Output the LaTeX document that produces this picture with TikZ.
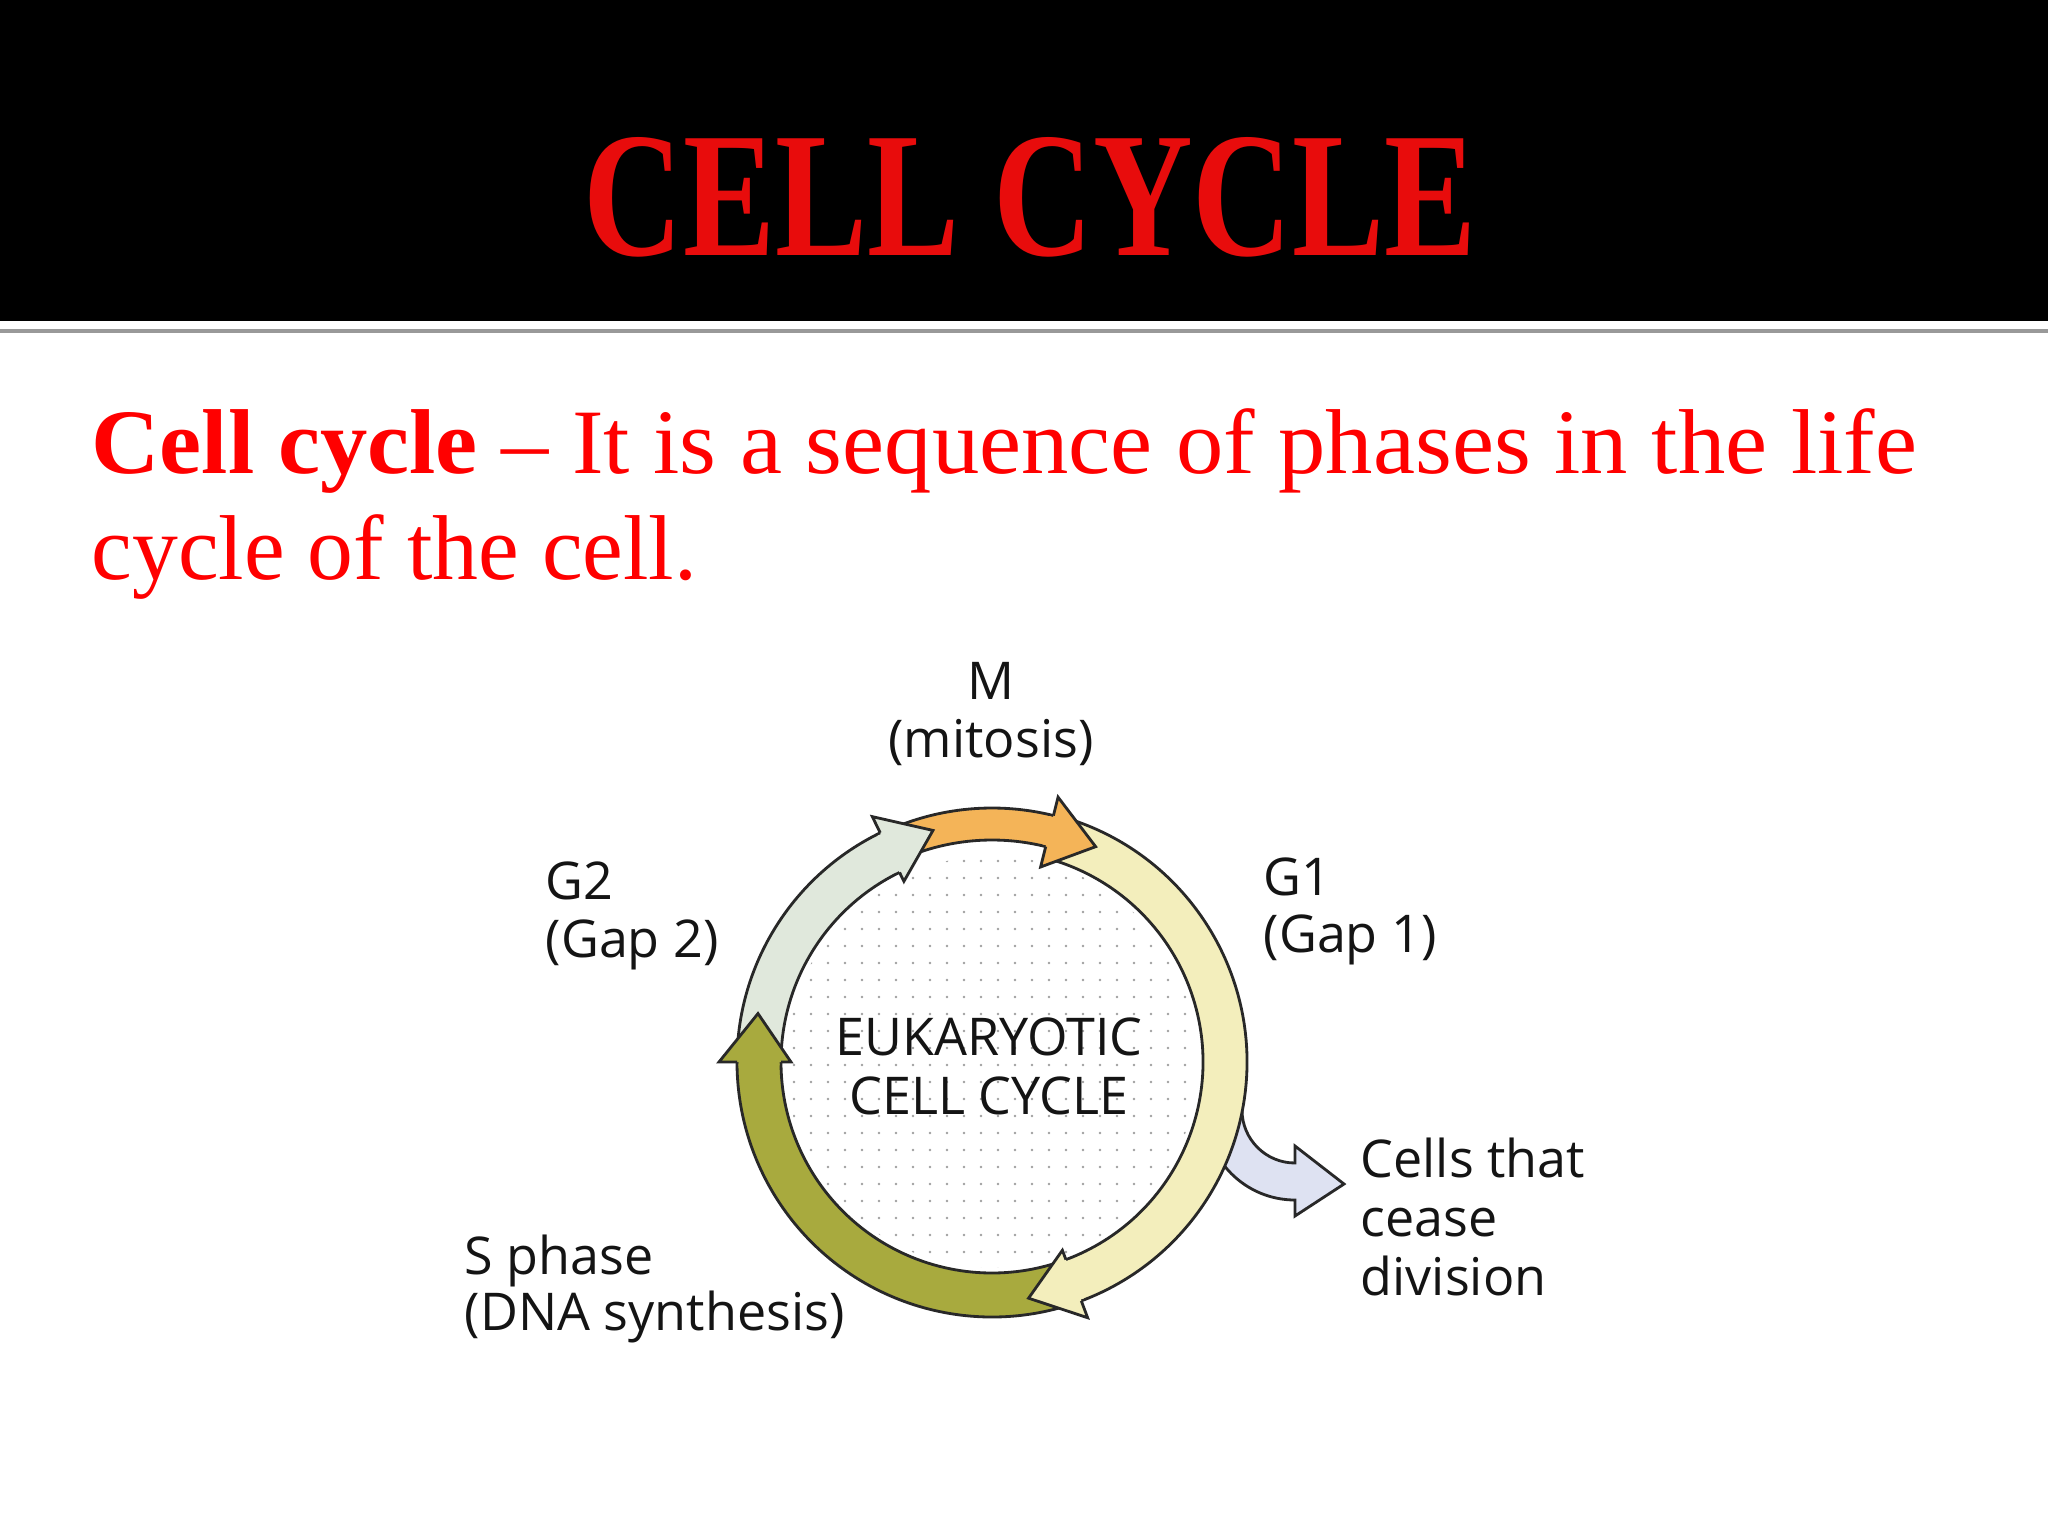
\documentclass[tikz,border=0pt]{standalone}
\usepackage{fontspec}
\setmainfont{Liberation Serif}
\newfontfamily\labelfont{Open Sans}
\definecolor{titlered}{RGB}{232,12,12}
\definecolor{subred}{RGB}{255,0,0}
\definecolor{cM}{RGB}{244,180,88}
\definecolor{cGone}{RGB}{243,238,188}
\definecolor{cS}{RGB}{168,170,62}
\definecolor{cGtwo}{RGB}{224,232,220}
\definecolor{cCease}{RGB}{222,226,242}
\definecolor{outl}{RGB}{40,40,40}
\definecolor{dotc}{RGB}{160,160,160}
\tikzset{
  ringline/.style={draw=outl, line width=0.8pt, line join=miter},
  lab/.style={font=\labelfont\fontsize{14.8}{17}\selectfont, inner sep=0pt, text=black!92},
}
\newcommand\ringbody[5]{%
  \filldraw[fill=#1, ringline] (#2:#5) arc[start angle=#2, end angle=#3, radius=#5]
    -- (#3:#4) arc[start angle=#3, end angle=#2, radius=#4] -- cycle;}
\newcommand\ringhead[4]{%
  \fill[#1] ({#2-0.9}:{#4-1.5}) -- (#2:{#4-1.5}) -- (#2:273) -- ({#2+11.7}:239) -- (#2:201)
    -- (#2:{#3+1.5}) -- ({#2-0.9}:{#3+1.5}) -- cycle;
  \draw[ringline] (#2:#4) -- (#2:273) -- ({#2+11.7}:239) -- (#2:201) -- (#2:#3);}
\begin{document}
\begin{tikzpicture}[x=0.01cm,y=-0.01cm]
\useasboundingbox (0,0) rectangle (2048,1536);
\fill[white] (0,0) rectangle (2048,1536);
% title band
\fill[black] (0,0) rectangle (2048,321);
\draw[line width=1.4pt, black!40] (0,331) -- (2048,331);
\node[anchor=base, inner sep=0pt, text=titlered, font=\fontsize{50.7}{60}\selectfont\bfseries]
  (title) at (1030,255) {\resizebox{8.92cm}{\height}{CELL CYCLE}};
% definition
\node[anchor=base west, inner sep=0pt, text=subred, font=\fontsize{26.2}{30}\selectfont]
  (defone) at (91,473) {\resizebox{18.24cm}{\height}{\textbf{Cell cycle} – It is a sequence of phases in the life}};
\node[anchor=base west, inner sep=0pt, text=subred, font=\fontsize{26.2}{30}\selectfont]
  (deftwo) at (91,579) {\resizebox{6.05cm}{\height}{cycle of the cell.}};
% cease arrow (under ring)
\filldraw[fill=cCease, ringline] (1205,1110) arc[start angle=180, end angle=90, radius=90]
  -- (1295,1216) -- (1344,1184) -- (1295,1146) -- (1295,1163)
  arc[start angle=90, end angle=180, radius=53] -- (1225,1085) -- cycle;
% ring
\begin{scope}[shift={(992,1062)}]
  \begin{scope}
    \clip (0,0) circle[radius=206];
    \foreach \i in {-8,...,16}{
      \foreach \j in {-4,...,21}{
        \fill[dotc] ({913+17*\i-992},{912+17*\j-1062}) circle[radius=1.4];
      }
    }
  \end{scope}
  \ringbody{cS}{71}{180}{211}{255}
  \ringbody{cGtwo}{181.5}{244}{211}{255}
  \ringbody{cM}{245.5}{284}{222}{254}
  \ringbody{cGone}{-74.5}{69.5}{211}{255}
  \ringhead{cGone}{69.5}{211}{255}
  \ringhead{cS}{180}{211}{255}
  \ringhead{cGtwo}{244}{211}{255}
  \ringhead{cM}{284}{222}{254}
\end{scope}
% labels
\node[lab, anchor=base] (eua) at (989,1055) {EUKARYOTIC};
\node[lab, anchor=base] (eub) at (989,1114) {CELL CYCLE};
\node[lab, anchor=base] (ma) at (991,699) {M};
\node[lab, anchor=base] (mb) at (991,757) {(mitosis)};
\node[lab, anchor=base west] (gta) at (545,899) {G2};
\node[lab, anchor=base west] (gtb) at (545,957) {(Gap 2)};
\node[lab, anchor=base west] (goa) at (1263,895) {G1};
\node[lab, anchor=base west] (gob) at (1263,952) {(Gap 1)};
\node[lab, anchor=base west] (sa) at (464,1274) {S phase};
\node[lab, anchor=base west] (sb) at (464,1330) {(DNA synthesis)};
\node[lab, anchor=base west] (ca) at (1360,1177) {Cells that};
\node[lab, anchor=base west] (cb) at (1360,1236) {cease};
\node[lab, anchor=base west] (cc) at (1360,1295) {division};
\end{tikzpicture}
\end{document}
